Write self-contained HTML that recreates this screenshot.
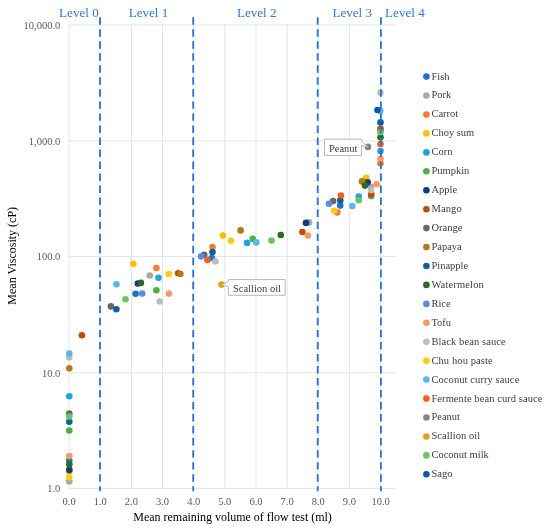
<!DOCTYPE html>
<html><head><meta charset="utf-8"><title>Viscosity chart</title>
<style>
html,body{margin:0;padding:0;background:#fff;}
svg{display:block;font-family:"Liberation Serif","Times New Roman",serif;}
.tick{font-size:10.5px;fill:#595959;}
.leg{font-size:10.5px;fill:#404040;}
.lvl{font-size:13.1px;fill:#2f78d2;}
.ttl{font-size:12px;fill:#000;}
.lab{font-size:10.5px;fill:#404040;}
</style></head><body>
<svg width="550" height="531" viewBox="0 0 550 531">
<rect width="550" height="531" fill="#fff"/>
<g stroke="#e5e5e5" stroke-width="1" fill="none"><line x1="69.1" y1="488.4" x2="396.2" y2="488.4"/><line x1="69.1" y1="372.8" x2="396.2" y2="372.8"/><line x1="69.1" y1="256.6" x2="396.2" y2="256.6"/><line x1="69.1" y1="140.9" x2="396.2" y2="140.9"/><line x1="69.1" y1="24.9" x2="396.2" y2="24.9"/><line x1="69.1" y1="24.9" x2="69.1" y2="488.4"/><line x1="100.2" y1="24.9" x2="100.2" y2="488.4"/><line x1="131.4" y1="24.9" x2="131.4" y2="488.4"/><line x1="162.5" y1="24.9" x2="162.5" y2="488.4"/><line x1="193.7" y1="24.9" x2="193.7" y2="488.4"/><line x1="224.8" y1="24.9" x2="224.8" y2="488.4"/><line x1="256.0" y1="24.9" x2="256.0" y2="488.4"/><line x1="287.1" y1="24.9" x2="287.1" y2="488.4"/><line x1="318.3" y1="24.9" x2="318.3" y2="488.4"/><line x1="349.4" y1="24.9" x2="349.4" y2="488.4"/><line x1="380.6" y1="24.9" x2="380.6" y2="488.4"/></g>
<text class="tick" x="60.3" y="492.1" text-anchor="end">1.0</text><text class="tick" x="60.3" y="376.5" text-anchor="end">10.0</text><text class="tick" x="60.3" y="260.3" text-anchor="end">100.0</text><text class="tick" x="60.3" y="144.6" text-anchor="end">1,000.0</text><text class="tick" x="60.3" y="28.6" text-anchor="end">10,000.0</text>
<text class="tick" x="69.1" y="505.2" text-anchor="middle">0.0</text><text class="tick" x="100.2" y="505.2" text-anchor="middle">1.0</text><text class="tick" x="131.4" y="505.2" text-anchor="middle">2.0</text><text class="tick" x="162.5" y="505.2" text-anchor="middle">3.0</text><text class="tick" x="193.7" y="505.2" text-anchor="middle">4.0</text><text class="tick" x="224.8" y="505.2" text-anchor="middle">5.0</text><text class="tick" x="256.0" y="505.2" text-anchor="middle">6.0</text><text class="tick" x="287.1" y="505.2" text-anchor="middle">7.0</text><text class="tick" x="318.3" y="505.2" text-anchor="middle">8.0</text><text class="tick" x="349.4" y="505.2" text-anchor="middle">9.0</text><text class="tick" x="380.6" y="505.2" text-anchor="middle">10.0</text>
<g fill="#1e6fd0"><circle cx="69.3" cy="460.6" r="3.3"/><circle cx="135.6" cy="293.8" r="3.3"/><circle cx="211.7" cy="258.0" r="3.3"/><circle cx="340.2" cy="205.6" r="3.3"/></g>
<g fill="#a8a8a8"><circle cx="69.3" cy="481.4" r="3.3"/><circle cx="149.8" cy="275.5" r="3.3"/><circle cx="309.1" cy="222.4" r="3.3"/><circle cx="371.0" cy="187.1" r="3.3"/></g>
<g fill="#fb7b2c"><circle cx="69.3" cy="471.0" r="3.3"/><circle cx="156.4" cy="268.0" r="3.3"/><circle cx="212.5" cy="247.1" r="3.3"/><circle cx="337.3" cy="212.4" r="3.3"/><circle cx="380.5" cy="163.3" r="3.3"/></g>
<g fill="#ffc000"><circle cx="133.3" cy="263.8" r="3.3"/><circle cx="222.9" cy="235.6" r="3.3"/><circle cx="366.2" cy="177.7" r="3.3"/></g>
<g fill="#22a0e0"><circle cx="69.3" cy="396.3" r="3.3"/><circle cx="158.5" cy="277.8" r="3.3"/><circle cx="247.1" cy="242.9" r="3.3"/><circle cx="358.7" cy="196.6" r="3.3"/><circle cx="380.5" cy="151.1" r="3.3"/></g>
<g fill="#4cb040"><circle cx="69.3" cy="430.5" r="3.3"/><circle cx="156.4" cy="290.2" r="3.3"/><circle cx="252.8" cy="238.9" r="3.3"/><circle cx="371.2" cy="196.1" r="3.3"/><circle cx="380.5" cy="130.5" r="3.3"/></g>
<g fill="#0e3f80"><circle cx="69.3" cy="469.7" r="3.3"/><circle cx="137.8" cy="283.5" r="3.3"/><circle cx="306.0" cy="222.9" r="3.3"/><circle cx="367.7" cy="182.3" r="3.3"/></g>
<g fill="#c04a0c"><circle cx="81.9" cy="335.3" r="3.3"/><circle cx="178.2" cy="273.3" r="3.3"/><circle cx="302.4" cy="232.0" r="3.3"/><circle cx="371.2" cy="194.3" r="3.3"/><circle cx="380.5" cy="128.9" r="3.3"/></g>
<g fill="#666666"><circle cx="69.3" cy="413.6" r="3.3"/><circle cx="110.9" cy="306.4" r="3.3"/><circle cx="204.2" cy="254.7" r="3.3"/><circle cx="333.1" cy="201.1" r="3.3"/></g>
<g fill="#b07c10"><circle cx="69.3" cy="368.3" r="3.3"/><circle cx="180.4" cy="274.0" r="3.3"/><circle cx="240.6" cy="230.4" r="3.3"/><circle cx="362.0" cy="181.4" r="3.3"/></g>
<g fill="#0f5f9c"><circle cx="69.3" cy="421.7" r="3.3"/><circle cx="116.4" cy="309.3" r="3.3"/><circle cx="212.5" cy="252.1" r="3.3"/><circle cx="340.3" cy="200.4" r="3.3"/><circle cx="380.5" cy="122.4" r="3.3"/></g>
<g fill="#2a6a22"><circle cx="69.3" cy="464.4" r="3.3"/><circle cx="140.9" cy="282.9" r="3.3"/><circle cx="280.8" cy="235.0" r="3.3"/><circle cx="365.0" cy="185.6" r="3.3"/><circle cx="380.5" cy="137.2" r="3.3"/></g>
<g fill="#558ede"><circle cx="142.2" cy="293.5" r="3.3"/><circle cx="201.1" cy="256.4" r="3.3"/><circle cx="329.0" cy="203.8" r="3.3"/></g>
<g fill="#fc9860"><circle cx="69.3" cy="456.1" r="3.3"/><circle cx="168.9" cy="293.6" r="3.3"/><circle cx="307.9" cy="235.6" r="3.3"/><circle cx="376.7" cy="184.3" r="3.3"/><circle cx="380.5" cy="158.7" r="3.3"/></g>
<g fill="#bcbcbc"><circle cx="69.3" cy="357.4" r="3.3"/><circle cx="159.6" cy="301.5" r="3.3"/><circle cx="215.4" cy="261.4" r="3.3"/><circle cx="371.0" cy="190.1" r="3.3"/><circle cx="380.5" cy="92.7" r="3.3"/></g>
<g fill="#ffcc14"><circle cx="69.3" cy="477.2" r="3.3"/><circle cx="168.7" cy="274.0" r="3.3"/><circle cx="230.9" cy="240.8" r="3.3"/><circle cx="334.2" cy="210.8" r="3.3"/></g>
<g fill="#5cb4e8"><circle cx="69.3" cy="353.5" r="3.3"/><circle cx="116.4" cy="284.2" r="3.3"/><circle cx="256.2" cy="242.4" r="3.3"/><circle cx="352.3" cy="206.1" r="3.3"/><circle cx="380.3" cy="111.0" r="3.3"/></g>
<g fill="#f2601c"><circle cx="207.4" cy="260.1" r="3.3"/><circle cx="340.9" cy="195.5" r="3.3"/><circle cx="380.5" cy="144.1" r="3.3"/></g>
<g fill="#868686"><circle cx="368.0" cy="146.9" r="3.3"/></g>
<g fill="#e0a010"><circle cx="221.5" cy="284.6" r="3.3"/></g>
<g fill="#6cc460"><circle cx="69.3" cy="416.6" r="3.3"/><circle cx="125.5" cy="299.3" r="3.3"/><circle cx="271.5" cy="240.6" r="3.3"/><circle cx="358.8" cy="200.2" r="3.3"/><circle cx="380.5" cy="132.2" r="3.3"/></g>
<g fill="#1054b0"><circle cx="377.5" cy="110.0" r="3.3"/></g>
<g stroke="#2576d2" stroke-width="1.85" stroke-dasharray="7.45 4.576" fill="none"><line x1="100.0" y1="17.2" x2="100.0" y2="491.3"/><line x1="193.2" y1="17.2" x2="193.2" y2="491.3"/><line x1="317.7" y1="17.2" x2="317.7" y2="491.3"/><line x1="380.9" y1="17.2" x2="380.9" y2="491.3"/></g>
<text class="lvl" x="59.1" y="17.2">Level 0</text><text class="lvl" x="128.7" y="17.2">Level 1</text><text class="lvl" x="236.9" y="17.2">Level 2</text><text class="lvl" x="332.4" y="17.2">Level 3</text><text class="lvl" x="385.1" y="17.2">Level 4</text>
<path d="M228.4 279.6H285.2V295.3H228.4V286.6L221.7 284.7L228.4 281.9Z" fill="#fff" stroke="#b8b8b8" stroke-width="1" stroke-linejoin="round"/><text class="lab" x="232.9" y="291.6">Scallion oil</text>
<path d="M324.6 139.1H361.6V141.4L368 146.8L361.6 145.6V155.4H324.6Z" fill="#fff" stroke="#b8b8b8" stroke-width="1" stroke-linejoin="round"/><text class="lab" x="328.9" y="151.5">Peanut</text>
<text class="ttl" x="232.6" y="521.3" text-anchor="middle" textLength="198.5" lengthAdjust="spacing">Mean remaining volume of flow test (ml)</text>
<text class="ttl" transform="translate(15.6 255.8) rotate(-90)" text-anchor="middle">Mean Viscosity (cP)</text>
<circle cx="426.4" cy="76.6" r="3.3" fill="#1e6fd0"/><text class="leg" x="431.4" y="79.5">Fish</text>
<circle cx="426.4" cy="95.5" r="3.3" fill="#a8a8a8"/><text class="leg" x="431.4" y="98.4">Pork</text>
<circle cx="426.4" cy="114.5" r="3.3" fill="#fb7b2c"/><text class="leg" x="431.4" y="117.4">Carrot</text>
<circle cx="426.4" cy="133.4" r="3.3" fill="#ffc000"/><text class="leg" x="431.4" y="136.3">Choy sum</text>
<circle cx="426.4" cy="152.4" r="3.3" fill="#22a0e0"/><text class="leg" x="431.4" y="155.3">Corn</text>
<circle cx="426.4" cy="171.3" r="3.3" fill="#4cb040"/><text class="leg" x="431.4" y="174.2">Pumpkin</text>
<circle cx="426.4" cy="190.2" r="3.3" fill="#0e3f80"/><text class="leg" x="431.4" y="193.1">Apple</text>
<circle cx="426.4" cy="209.2" r="3.3" fill="#c04a0c"/><text class="leg" x="431.4" y="212.1" textLength="30.3" lengthAdjust="spacing">Mango</text>
<circle cx="426.4" cy="228.1" r="3.3" fill="#666666"/><text class="leg" x="431.4" y="231.0">Orange</text>
<circle cx="426.4" cy="247.1" r="3.3" fill="#b07c10"/><text class="leg" x="431.4" y="250.0">Papaya</text>
<circle cx="426.4" cy="266.0" r="3.3" fill="#0f5f9c"/><text class="leg" x="431.4" y="268.9">Pinapple</text>
<circle cx="426.4" cy="284.9" r="3.3" fill="#2a6a22"/><text class="leg" x="431.4" y="287.8" textLength="52.4" lengthAdjust="spacing">Watermelon</text>
<circle cx="426.4" cy="303.9" r="3.3" fill="#558ede"/><text class="leg" x="431.4" y="306.8">Rice</text>
<circle cx="426.4" cy="322.8" r="3.3" fill="#fc9860"/><text class="leg" x="431.4" y="325.7">Tofu</text>
<circle cx="426.4" cy="341.8" r="3.3" fill="#bcbcbc"/><text class="leg" x="431.4" y="344.7" textLength="74.3" lengthAdjust="spacing">Black bean sauce</text>
<circle cx="426.4" cy="360.7" r="3.3" fill="#ffcc14"/><text class="leg" x="431.4" y="363.6" textLength="61.3" lengthAdjust="spacing">Chu hou paste</text>
<circle cx="426.4" cy="379.6" r="3.3" fill="#5cb4e8"/><text class="leg" x="431.4" y="382.5" textLength="87.9" lengthAdjust="spacing">Coconut curry sauce</text>
<circle cx="426.4" cy="398.6" r="3.3" fill="#f2601c"/><text class="leg" x="431.4" y="401.5" textLength="111.1" lengthAdjust="spacing">Fermente bean curd sauce</text>
<circle cx="426.4" cy="417.5" r="3.3" fill="#868686"/><text class="leg" x="431.4" y="420.4">Peanut</text>
<circle cx="426.4" cy="436.5" r="3.3" fill="#e0a010"/><text class="leg" x="431.4" y="439.4" textLength="48.8" lengthAdjust="spacing">Scallion oil</text>
<circle cx="426.4" cy="455.4" r="3.3" fill="#6cc460"/><text class="leg" x="431.4" y="458.3">Coconut milk</text>
<circle cx="426.4" cy="474.3" r="3.3" fill="#1054b0"/><text class="leg" x="431.4" y="477.2">Sago</text>
</svg>
</body></html>
